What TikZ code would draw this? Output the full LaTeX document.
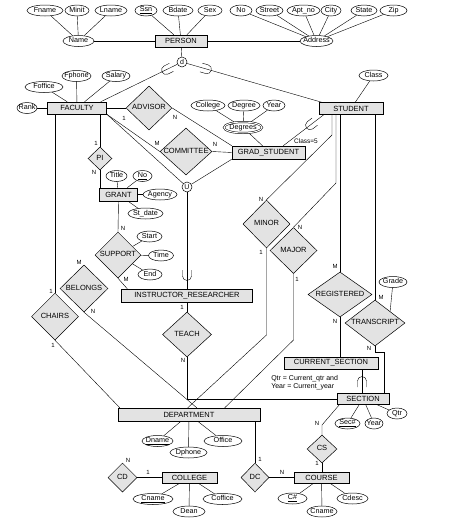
\documentclass[tikz,border=0pt]{standalone}
\usepackage{fontspec}
\setmainfont{Liberation Sans}
\usetikzlibrary{shapes.geometric,shadows,backgrounds}
\newcommand\zc[1]{\makebox[0pt]{\vphantom{Ag}#1}}
\begin{document}
\begin{tikzpicture}[x=1pt,y=-1pt, line width=0.5pt,
 ent/.style={draw, fill=black!11, inner sep=0pt, minimum height=12pt, font=\fontsize{7.5}{8}\selectfont, general shadow={fill=black, shadow xshift=0.7pt, shadow yshift=-0.7pt}},
 rel/.style={draw, diamond, fill=black!11, inner sep=0pt, font=\fontsize{7.5}{8}\selectfont},
 attr/.style={draw, ellipse, fill=white, inner sep=0pt, minimum height=11pt, font=\fontsize{7.2}{8}\selectfont},
 card/.style={font=\fontsize{6}{6.5}\selectfont, inner sep=0pt},
 circ/.style={draw, circle, fill=white, inner sep=0pt, minimum size=10pt, font=\fontsize{7}{7}\selectfont},
 subsym/.pic={\draw[x=1pt,y=1pt] (-4.5,6) -- (-4.5,0) arc (180:360:4.5) -- (4.5,6);}
]
\useasboundingbox (0,0) rectangle (449,528);

% PERSON
\node[attr, minimum width=36pt] (fname) at (45,10.5) {\zc{Fname}};
\node[attr, minimum width=24pt] (minit) at (77,10.5) {\zc{Minit}};
\node[attr, minimum width=32pt] (lname) at (111,10.5) {\zc{Lname}};
\node[attr, minimum width=22pt] (ssn) at (146,10.5) {\zc{\underline{Ssn}}};
\node[attr, minimum width=30pt] (bdate) at (178,10.5) {\zc{Bdate}};
\node[attr, minimum width=24pt] (sex) at (210,10.5) {\zc{Sex}};
\node[attr, minimum width=22pt] (ano) at (241,10.5) {\zc{No}};
\node[attr, minimum width=27pt] (street) at (269.5,10.5) {\zc{Street}};
\node[attr, minimum width=33pt] (aptno) at (303.5,10.5) {\zc{Apt\_no}};
\node[attr, minimum width=20pt] (city) at (331,10.5) {\zc{City}};
\node[attr, minimum width=26pt] (state) at (364,10.5) {\zc{State}};
\node[attr, minimum width=27pt] (zip) at (393.5,10.5) {\zc{Zip}};
\node[ent, minimum width=52pt] (per) at (181,41) {PERSON};
\node[attr, minimum width=31pt] (name) at (78.5,41) {\zc{Name}};
\node[attr, minimum width=33pt] (addr) at (316.5,41) {\zc{Address}};
\node[circ] (dcirc) at (182,62) {d};

% FACULTY / STUDENT
\node[ent, minimum width=59pt] (fac) at (77,108) {FACULTY};
\node[ent, minimum width=64pt] (stu) at (351,108.5) {STUDENT};
\node[attr, minimum width=29pt] (class) at (373.5,75.5) {\zc{Class}};
\node[attr, minimum width=38pt] (foff) at (44,87) {\zc{Foffice}};
\node[attr, minimum width=29pt] (fph) at (76.5,76) {\zc{Fphone}};
\node[attr, minimum width=28pt] (sal) at (116,76) {\zc{Salary}};
\node[attr, minimum width=20pt] (rank) at (27,108) {\zc{Rank}};
\node[rel, minimum width=46pt, minimum height=44pt] (adv) at (149,108) {\zc{ADVISOR}};
\node[rel, minimum width=52pt, minimum height=47pt] (com) at (186,151.5) {\zc{COMMITTEE}};
\node[ent, minimum width=73pt, minimum height=13pt] (gs) at (268.5,152.5) {GRAD\_STUDENT};
\node[attr, minimum width=34pt] (coll) at (208,105.5) {\zc{College}};
\node[attr, minimum width=32pt] (dgr) at (244,105.5) {\zc{Degree}};
\node[attr, minimum width=22pt] (yr) at (274,105.5) {\zc{Year}};
\node[attr, double, double distance=1pt, minimum width=38pt, minimum height=11pt] (dgs) at (243,127.5) {\zc{Degrees}};
\node[card, font=\fontsize{6.5}{7}\selectfont] (cls5) at (306,141) {Class=5};
\node[circ] (ucirc) at (187,187) {U};

% GRANT / SUPPORT
\node[rel, minimum width=24pt, minimum height=23pt] (pi) at (100,158.5) {\zc{PI}};
\node[ent, minimum width=38pt, minimum height=13pt] (grant) at (118.5,194.5) {GRANT};
\node[attr, minimum width=21pt] (title) at (116.5,176) {\zc{Title}};
\node[attr, minimum width=19pt] (gno) at (142.5,176) {\zc{\underline{No}}};
\node[attr, minimum width=34pt] (agency) at (160,194.5) {\zc{Agency}};
\node[attr, minimum width=35pt] (stdate) at (145.5,213.5) {\zc{St\_date}};
\node[rel, minimum width=46pt, minimum height=46pt] (sup) at (118,255) {\zc{SUPPORT}};
\node[attr, minimum width=25pt] (start) at (149.5,236.5) {\zc{Start}};
\node[attr, minimum width=25pt] (time) at (161,255.5) {\zc{Time}};
\node[attr, minimum width=24pt] (endat) at (150,274.5) {\zc{End}};
\node[ent, minimum width=131pt, minimum height=13pt] (ir) at (187,295.5) {INSTRUCTOR\_RESEARCHER};
\node[rel, minimum width=48pt, minimum height=47pt] (bel) at (84,288.5) {\zc{BELONGS}};
\node[rel, minimum width=47pt, minimum height=47pt] (chairs) at (55,316.5) {\zc{CHAIRS}};
\node[rel, minimum width=49pt, minimum height=45pt] (teach) at (187,334.5) {\zc{TEACH}};

% right side
\node[rel, minimum width=47pt, minimum height=48pt] (minor) at (266.5,224) {\zc{MINOR}};
\node[rel, minimum width=47pt, minimum height=46pt] (major) at (293.5,250.5) {\zc{MAJOR}};
\node[rel, minimum width=64pt, minimum height=45pt] (reg) at (340,294.5) {\zc{REGISTERED}};
\node[rel, minimum width=60pt, minimum height=46pt] (tra) at (375,323) {\zc{TRANSCRIPT}};
\node[attr, minimum width=28pt] (grade) at (393,282) {\zc{Grade}};
\node[ent, minimum width=94pt] (cur) at (331,363) {CURRENT\_SECTION};
\node[align=left, anchor=west, inner sep=0pt, font=\fontsize{7}{8}\selectfont] (pred) at (271,382.5) {Qtr = Current\_qtr and\\Year = Current\_year};
\node[ent, minimum width=52pt, minimum height=11pt] (sec) at (363,398.5) {SECTION};
\node[attr, minimum width=25pt] (secno) at (347.5,423.5) {\zc{\underline{Sec\#}}};
\node[attr, minimum width=18pt] (syear) at (374,423.5) {\zc{Year}};
\node[attr, minimum width=20pt] (qtr) at (397,413.5) {\zc{Qtr}};

% bottom
\node[ent, minimum width=142pt, minimum height=13pt] (dep) at (189,414.5) {DEPARTMENT};
\node[attr, minimum width=31pt] (dname) at (157.5,441) {\zc{\underline{Dname}}};
\node[attr, minimum width=37pt] (dphone) at (188.5,452.5) {\zc{Dphone}};
\node[attr, minimum width=38pt] (office) at (223,441) {\zc{Office}};
\node[rel, minimum width=29pt, minimum height=29pt] (cd) at (122.5,477.5) {\zc{CD}};
\node[ent, minimum width=55pt, minimum height=11pt] (college) at (189.5,477.5) {COLLEGE};
\node[attr, minimum width=40pt] (cname) at (153,499) {\zc{\underline{Cname}}};
\node[attr, minimum width=32pt] (dean) at (189,511.5) {\zc{Dean}};
\node[attr, minimum width=39pt] (coff) at (222.5,499) {\zc{Coffice}};
\node[rel, minimum width=28pt, minimum height=29pt] (dcr) at (255,477.5) {\zc{DC}};
\node[ent, minimum width=55pt, minimum height=11pt] (course) at (321.5,477.5) {COURSE};
\node[rel, minimum width=30pt, minimum height=28pt] (cs) at (322,449) {\zc{CS}};
\node[attr, minimum width=29pt] (cno) at (292.5,498.5) {\zc{\underline{C\#}}};
\node[attr, minimum width=30pt] (crname) at (322,511.5) {\zc{Cname}};
\node[attr, minimum width=31pt] (cdesc) at (352.5,498.5) {\zc{Cdesc}};

% cardinality labels
\node[card] (l1) at (124,118) {1}; \node[card] (l2) at (175,117) {N};
\node[card] (l3) at (157,143) {M}; \node[card] (l4) at (215,144) {N};
\node[card] (l5) at (96,143) {1}; \node[card] (l6) at (94,172) {N};
\node[card] (l7) at (123,228) {N}; \node[card] (l8) at (126,279) {M};
\node[card] (l9) at (79,262) {M}; \node[card] (l10) at (93,311) {N};
\node[card] (l11) at (51,291) {1}; \node[card] (l12) at (53,345) {1};
\node[card] (l13) at (182,307) {1}; \node[card] (l14) at (183,360) {N};
\node[card] (l15) at (261,199) {N}; \node[card] (l16) at (261,252) {1};
\node[card] (l17) at (300,227) {N}; \node[card] (l18) at (297,279) {1};
\node[card] (l19) at (335,266) {M}; \node[card] (l20) at (335,321) {N};
\node[card] (l21) at (381,297) {M}; \node[card] (l22) at (369,348) {N};
\node[card] (l23) at (317,423) {N}; \node[card] (l24) at (317,463) {1};
\node[card] (l25) at (260,459) {1}; \node[card] (l26) at (282,472) {N};
\node[card] (l27) at (128,460) {N}; \node[card] (l28) at (148,472) {1};

% bend points
\coordinate (m1) at (332,135);
\coordinate (m2) at (336,183);
\coordinate (m3) at (266.5,335);
\coordinate (m4) at (293.5,340);
\coordinate (t1) at (384,352);
\coordinate (c1) at (362,381);
\coordinate (s1) at (322,425);
\coordinate (h1) at (187,399);

\begin{pgfonlayer}{background}
\fill[white] (0,0) rectangle (449,528);
\foreach \a in {fname,minit,lname} \draw (\a) -- (name);
\foreach \a in {ssn,bdate,sex} \draw (\a) -- (per);
\foreach \a in {ano,street,aptno,city,state,zip} \draw (\a) -- (addr);
\draw (name) -- (per) -- (addr);
\draw (per) -- (dcirc);
\draw (dcirc) -- ([xshift=-6pt]fac.north east);
\draw (dcirc) -- ([xshift=3pt]stu.north west);
\pic[rotate=-63.6] at (166,70) {subsym};
\pic[rotate=73.9] at (207,69.2) {subsym};
\foreach \a in {foff,fph,sal,rank} \draw (\a) -- (fac);
\draw (class) -- (stu);
\draw (fac) -- (adv);
\draw (adv.east) -- (gs.north west);
\draw (fac.south east) -- (com.west);
\draw (fac.south east) -- (ucirc);
\draw (com.east) -- (gs.west);
\draw (gs.south west) -- (ucirc);
\foreach \a in {coll,dgr,yr} \draw (\a) -- (dgs);
\draw (dgs) -- ([xshift=-6pt]gs.north);
\draw ([xshift=-22pt]gs.north east) -- ([xshift=5pt]stu.south west);
\pic[rotate=-52.5] at (310,125.3) {subsym};
\draw (ucirc) -- (ucirc |- ir.north);
\pic at (187,276) {subsym};
% FACULTY down
\draw (chairs.north) -- (chairs.north |- fac.south);
\draw (pi.north) -- (pi.north |- fac.south);
\draw (pi.south) -- (pi.south |- grant.north);
\foreach \a in {title,gno,agency,stdate} \draw (\a) -- (grant);
\draw (grant.south) -- (sup.north);
\foreach \a in {start,time,endat} \draw (sup) -- (\a);
\draw (sup.south) -- ([xshift=6pt]ir.north west);
\draw (ir.south) -- (teach.north);
\draw (teach.south) -- (h1) -- (h1 -| sec.west);
\draw (chairs.south) -- ([xshift=2pt]dep.north west);
\draw (bel.south) -- ([xshift=79pt]dep.north west);
% STUDENT down
\draw (m1 |- stu.south) -- (m1) -- (minor.north);
\draw (m2 |- stu.south) -- (m2) -- (major.north);
\draw (reg.north) -- (reg.north |- stu.south);
\draw (tra.north) -- (tra.north |- stu.south);
\draw (minor.south) -- (m3) -- ([xshift=70pt]dep.north west);
\draw (major.south) -- (m4) -- ([xshift=107pt]dep.north west);
\draw (reg.south) -- (reg.south |- cur.north);
\draw (tra.south) -- (tra.south |- t1) -- (t1) -- (t1 |- sec.north);
\draw (grade) -- (tra.north east);
\draw (c1 |- cur.south) -- (c1 |- sec.north);
\pic[rotate=180] at (c1) {subsym};
\foreach \a in {secno,syear,qtr} \draw (sec) -- (\a);
\draw ([xshift=3pt]sec.south west) -- (s1) -- (cs.north);
\draw (cs.south) -- (cs.south |- course.north);
% bottom
\foreach \a in {dname,dphone,office} \draw (dep) -- (\a);
\draw (dcr.north) -- (dcr.north |- dep.south);
\draw (dcr.east) -- (course.west);
\foreach \a in {cno,crname,cdesc} \draw (course) -- (\a);
\draw (cd.east) -- (college.west);
\foreach \a in {cname,dean,coff} \draw (college) -- (\a);
\end{pgfonlayer}
\end{tikzpicture}
\end{document}
